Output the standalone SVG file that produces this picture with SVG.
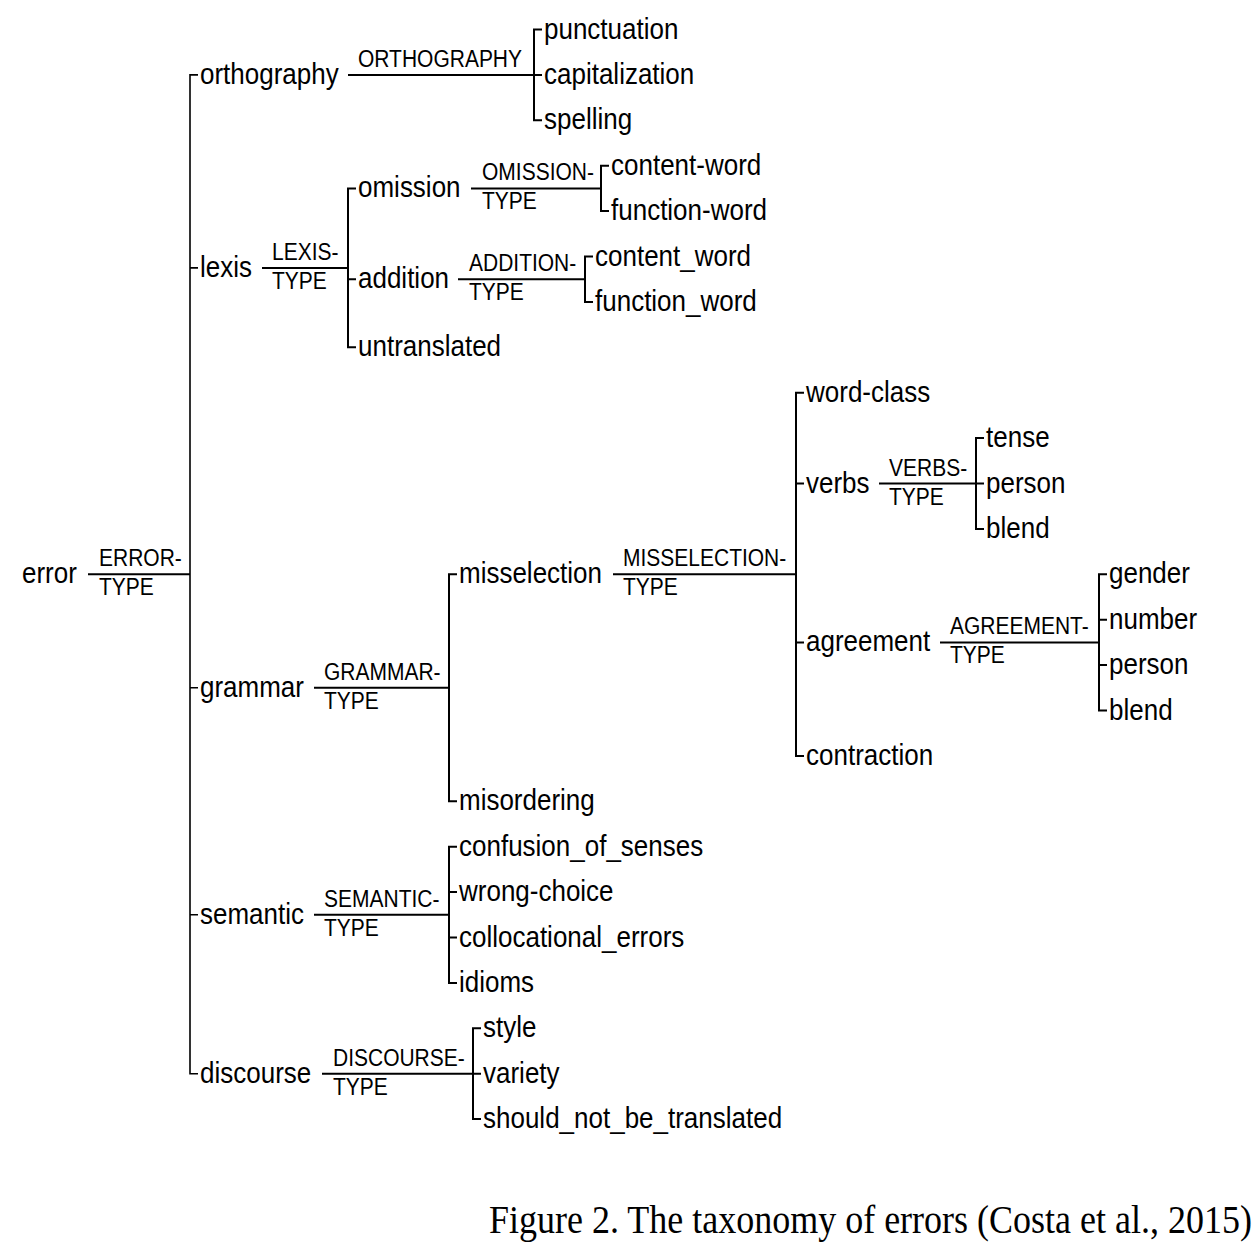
<svg xmlns="http://www.w3.org/2000/svg" width="1257" height="1250" viewBox="0 0 1257 1250">
<style>
.t{font-family:"Liberation Sans",Arial,sans-serif;font-size:26px;fill:#000}
.c{font-family:"Liberation Sans",Arial,sans-serif;font-size:21px;fill:#000}
.cap{font-family:"Liberation Serif","Times New Roman",serif;font-size:36px;fill:#000}
.ln{stroke:#000;stroke-width:2;fill:none}
.main{stroke:#000;stroke-width:1.6;fill:none}
</style>
<rect width="1257" height="1250" fill="#fff"/>
<g id="connectors">
<path class="main" d="M198,74.9H190V1073.7H198M190,267.9H198M190,687.8H198M190,914.8H198"/>
<path class="ln" d="M88,574.3H190"/>
<path class="ln" d="M348,74.9H534M542,29.5H534V120.3H542M534,74.9H542"/>
<path class="ln" d="M262,267.9H348M356,188.4H348V347.3H356M348,279.2H356"/>
<path class="ln" d="M471,188.4H601M609,165.7H601V211.1H609"/>
<path class="ln" d="M458,279.2H585M593,256.5H585V301.9H593"/>
<path class="ln" d="M314,687.8H449M457,574.3H449V801.3H457"/>
<path class="ln" d="M613,574.3H796M804,392.7H796V755.9H804M796,483.5H804M796,642.4H804"/>
<path class="ln" d="M879,483.5H976M984,438.1H976V528.9H984M976,483.5H984"/>
<path class="ln" d="M940,642.4H1099M1107,574.3H1099V710.5H1107M1099,619.7H1107M1099,665.1H1107"/>
<path class="ln" d="M314,914.8H449M457,846.7H449V982.9H457M449,892.1H457M449,937.5H457"/>
<path class="ln" d="M322,1073.7H473M481,1028.3H473V1119.1H481M473,1073.7H481"/>
</g>
<g id="connector-labels">
<text class="c" transform="translate(99,566.3) scale(1,1.12)">ERROR-</text>
<text class="c" transform="translate(99,595.3) scale(1,1.12)">TYPE</text>
<text class="c" transform="translate(358,66.9) scale(1,1.12)">ORTHOGRAPHY</text>
<text class="c" transform="translate(272,259.9) scale(1,1.12)">LEXIS-</text>
<text class="c" transform="translate(272,288.9) scale(1,1.12)">TYPE</text>
<text class="c" transform="translate(482,180.4) scale(1,1.12)">OMISSION-</text>
<text class="c" transform="translate(482,209.4) scale(1,1.12)">TYPE</text>
<text class="c" transform="translate(469,271.2) scale(1,1.12)">ADDITION-</text>
<text class="c" transform="translate(469,300.2) scale(1,1.12)">TYPE</text>
<text class="c" transform="translate(324,679.8) scale(1,1.12)">GRAMMAR-</text>
<text class="c" transform="translate(324,708.8) scale(1,1.12)">TYPE</text>
<text class="c" transform="translate(623,566.3) scale(1,1.12)">MISSELECTION-</text>
<text class="c" transform="translate(623,595.3) scale(1,1.12)">TYPE</text>
<text class="c" transform="translate(889,475.5) scale(1,1.12)">VERBS-</text>
<text class="c" transform="translate(889,504.5) scale(1,1.12)">TYPE</text>
<text class="c" transform="translate(950,634.4) scale(1,1.12)">AGREEMENT-</text>
<text class="c" transform="translate(950,663.4) scale(1,1.12)">TYPE</text>
<text class="c" transform="translate(324,906.8) scale(1,1.12)">SEMANTIC-</text>
<text class="c" transform="translate(324,935.8) scale(1,1.12)">TYPE</text>
<text class="c" transform="translate(333,1065.7) scale(1,1.12)">DISCOURSE-</text>
<text class="c" transform="translate(333,1094.7) scale(1,1.12)">TYPE</text>
</g>
<g id="node-error"><text class="t" transform="translate(22,583.3) scale(1,1.12)">error</text></g>
<g id="node-orthography"><text class="t" transform="translate(200,83.9) scale(1,1.12)">orthography</text></g>
<g id="node-lexis"><text class="t" transform="translate(200,276.9) scale(1,1.12)">lexis</text></g>
<g id="node-grammar"><text class="t" transform="translate(200,696.8) scale(1,1.12)">grammar</text></g>
<g id="node-semantic"><text class="t" transform="translate(200,923.8) scale(1,1.12)">semantic</text></g>
<g id="node-discourse"><text class="t" transform="translate(200,1082.7) scale(1,1.12)">discourse</text></g>
<g id="node-punctuation"><text class="t" transform="translate(544,38.5) scale(1,1.12)">punctuation</text></g>
<g id="node-capitalization"><text class="t" transform="translate(544,83.9) scale(1,1.12)">capitalization</text></g>
<g id="node-spelling"><text class="t" transform="translate(544,129.3) scale(1,1.12)">spelling</text></g>
<g id="node-omission"><text class="t" transform="translate(358,197.4) scale(1,1.12)">omission</text></g>
<g id="node-addition"><text class="t" transform="translate(358,288.2) scale(1,1.12)">addition</text></g>
<g id="node-untranslated"><text class="t" transform="translate(358,356.3) scale(1,1.12)">untranslated</text></g>
<g id="node-content-word"><text class="t" transform="translate(611,174.7) scale(1,1.12)">content-word</text></g>
<g id="node-function-word"><text class="t" transform="translate(611,220.1) scale(1,1.12)">function-word</text></g>
<g id="node-content_word"><text class="t" transform="translate(595,265.5) scale(1,1.12)">content_word</text></g>
<g id="node-function_word"><text class="t" transform="translate(595,310.9) scale(1,1.12)">function_word</text></g>
<g id="node-misselection"><text class="t" transform="translate(459,583.3) scale(1,1.12)">misselection</text></g>
<g id="node-misordering"><text class="t" transform="translate(459,810.3) scale(1,1.12)">misordering</text></g>
<g id="node-word-class"><text class="t" transform="translate(806,401.7) scale(1,1.12)">word-class</text></g>
<g id="node-verbs"><text class="t" transform="translate(806,492.5) scale(1,1.12)">verbs</text></g>
<g id="node-agreement"><text class="t" transform="translate(806,651.4) scale(1,1.12)">agreement</text></g>
<g id="node-contraction"><text class="t" transform="translate(806,764.9) scale(1,1.12)">contraction</text></g>
<g id="node-tense"><text class="t" transform="translate(986,447.1) scale(1,1.12)">tense</text></g>
<g id="node-verbs-person"><text class="t" transform="translate(986,492.5) scale(1,1.12)">person</text></g>
<g id="node-verbs-blend"><text class="t" transform="translate(986,537.9) scale(1,1.12)">blend</text></g>
<g id="node-gender"><text class="t" transform="translate(1109,583.3) scale(1,1.12)">gender</text></g>
<g id="node-number"><text class="t" transform="translate(1109,628.7) scale(1,1.12)">number</text></g>
<g id="node-agreement-person"><text class="t" transform="translate(1109,674.1) scale(1,1.12)">person</text></g>
<g id="node-agreement-blend"><text class="t" transform="translate(1109,719.5) scale(1,1.12)">blend</text></g>
<g id="node-confusion_of_senses"><text class="t" transform="translate(459,855.7) scale(1,1.12)">confusion_of_senses</text></g>
<g id="node-wrong-choice"><text class="t" transform="translate(459,901.1) scale(1,1.12)">wrong-choice</text></g>
<g id="node-collocational_errors"><text class="t" transform="translate(459,946.5) scale(1,1.12)">collocational_errors</text></g>
<g id="node-idioms"><text class="t" transform="translate(459,991.9) scale(1,1.12)">idioms</text></g>
<g id="node-style"><text class="t" transform="translate(483,1037.3) scale(1,1.12)">style</text></g>
<g id="node-variety"><text class="t" transform="translate(483,1082.7) scale(1,1.12)">variety</text></g>
<g id="node-should_not_be_translated"><text class="t" transform="translate(483,1128.1) scale(1,1.12)">should_not_be_translated</text></g>
<g id="caption"><text class="cap" transform="translate(489,1233) scale(1,1.1)">Figure 2. The taxonomy of errors (Costa et al., 2015)</text></g>
</svg>
